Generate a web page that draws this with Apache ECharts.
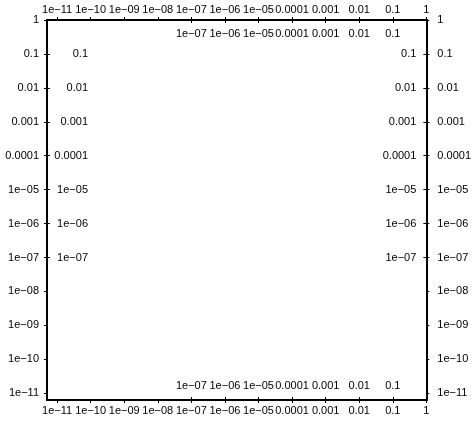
<!DOCTYPE html>
<html>
<head>
<meta charset="utf-8">
<script src="https://cdn.jsdelivr.net/npm/echarts@6/dist/echarts.min.js"></script>
<style>html,body{margin:0;padding:0;background:#fff}#c{width:474px;height:424px}</style>
</head>
<body>
<div id="c"></div>
<script>
// exponents (log10) shown on the axes
var outerTicks = [-11, -10, -9, -8, -7, -6, -5, -4, -3, -2, -1, 0];
var innerTicks = [-7, -6, -5, -4, -3, -2, -1];
var xRange = [-11.3, 0];
var yRange = [-11.2, 0];

function fmt(v) {
  var e = Math.round(v);
  if (e >= -4) return String(Math.pow(10, e).toFixed(-e > 0 ? -e : 0));
  return '1e\u2212' + (-e < 10 ? '0' : '') + (-e);
}

var chart = echarts.init(document.getElementById('c'));

function axis(pos, range, ticks, inside, extra) {
  var a = {
    type: 'value', position: pos, min: range[0], max: range[1],
    splitLine: {show: false},
    axisLine: {show: true, onZero: false, lineStyle: {color: '#000', width: 2}},
    axisTick: {show: true, inside: inside, length: 3, customValues: ticks, lineStyle: {color: '#000', width: 1}},
    axisLabel: {show: true, inside: inside, customValues: ticks, formatter: fmt,
      color: '#000', fontSize: 11, fontFamily: 'Liberation Sans', margin: 5}
  };
  if (extra) Object.assign(a.axisLabel, extra);
  return a;
}

chart.setOption({
  animation: false,
  grid: {left: 47, right: 44, top: 20, bottom: 24},
  xAxis: [
    axis('bottom', xRange, outerTicks, false),
    axis('bottom', xRange, innerTicks, true, {margin: 9}),
    axis('top', xRange, outerTicks, false),
    axis('top', xRange, innerTicks, true, {margin: 8})
  ],
  yAxis: [
    axis('left', yRange, outerTicks, false, {margin: 8}),
    axis('left', yRange, innerTicks, true, {margin: 41, align: 'right'}),
    axis('right', yRange, outerTicks, false, {margin: 11}),
    axis('right', yRange, innerTicks, true, {margin: 10})
  ],
  series: [{type: 'line', data: [], xAxisIndex: 0, yAxisIndex: 0}]
});
</script>
</body>
</html>
